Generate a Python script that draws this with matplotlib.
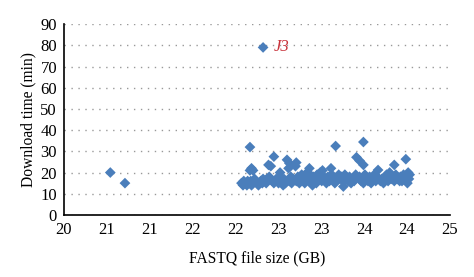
import numpy as np
import matplotlib
matplotlib.use("Agg")
import matplotlib.pyplot as plt

# FASTQ file size (GB) vs download time (min)
size_gb = [20.60, 20.79, 22.58,
           22.30, 22.32, 22.33, 22.35, 22.37, 22.38, 22.40, 22.42, 22.43, 22.45,
           22.41, 22.43, 22.45, 22.41, 22.47, 22.50, 22.52, 22.55, 22.57, 22.58,
           22.60, 22.62, 22.63, 22.65, 22.68, 22.66, 22.70, 22.72, 22.72, 22.75,
           22.77, 22.78, 22.80, 22.80, 22.82, 22.84, 22.85, 22.87, 22.89, 22.92,
           22.91, 22.92, 22.94, 22.95, 22.97, 23.01, 23.00, 23.01, 23.03, 23.05,
           23.06, 23.08, 23.10, 23.12, 23.14, 23.15, 23.16, 23.18, 23.19, 23.20,
           23.22, 23.23, 23.25, 23.27, 23.28, 23.30, 23.32, 23.34, 23.35, 23.37,
           23.38, 23.40, 23.42, 23.44, 23.46, 23.47, 23.52, 23.50, 23.51, 23.53,
           23.62, 23.56, 23.58, 23.60, 23.62, 23.64, 23.66, 23.68, 23.70, 23.72,
           23.74, 23.76, 23.78, 23.79, 23.83, 23.83, 23.85, 23.88, 23.88, 23.88,
           23.90, 23.92, 23.94, 23.96, 23.98, 24.00, 24.02, 24.04, 24.06, 24.07,
           24.10, 24.12, 24.14, 24.16, 24.18, 24.20, 24.22, 24.24, 24.26, 24.28,
           24.28, 24.30, 24.32, 24.35, 24.38, 24.40, 24.41, 24.43, 24.44, 24.46,
           24.47, 24.48, 24.36, 24.45]
time_min = [20, 15, 79,
            15, 14, 16, 15, 14, 16, 15, 16, 14, 15,
            21, 22, 21, 32, 17, 15, 14, 16, 15, 17,
            16, 15, 17, 23.6, 23, 18, 16, 15, 27.5, 17,
            16, 15, 18, 20, 16, 14, 17, 15, 26, 24.4,
            22, 16, 18, 15, 17, 24.7, 23, 16, 18, 15,
            17, 19, 16, 15, 18, 20, 17, 22, 19, 16,
            14, 18, 17, 15, 19, 17, 20, 16, 21, 18,
            17, 15, 18, 16, 22, 19, 32.5, 17, 15, 16,
            13.4, 19, 17, 18, 16, 19, 17, 16, 18, 15,
            17, 16, 19, 27.2, 25.6, 18, 16, 34.4, 15, 23.6,
            19, 17, 16, 18, 15, 17, 19, 16, 18, 21.2,
            16, 17, 15, 18, 19, 16, 20, 17, 18, 23.6,
            16, 19, 17, 16, 16, 19, 17, 26.3, 18, 20,
            17, 19, 18, 15]

xtick_pos = np.linspace(20, 25, 10)
xtick_labels = ['20', '21', '21', '22', '22', '23', '23', '24', '24', '25']
ytick_pos = [0, 10, 20, 30, 40, 50, 60, 70, 80, 90]

plt.rcParams['font.family'] = ['Liberation Serif', 'DejaVu Serif']

fig = plt.figure(figsize=(4.74, 2.77), dpi=100)
ax = fig.add_axes([0.135, 0.224, 0.814, 0.689])

ax.scatter(size_gb, time_min, marker='D', s=30, color='#4a7ebb',
           edgecolors='none', zorder=3)
ax.text(22.72, 79, 'J3', color='#c8323a', style='italic', fontsize=12,
        va='center', ha='left')

ax.set_xlim(20, 25)
ax.set_ylim(0, 90)
ax.set_xticks(xtick_pos)
ax.set_xticklabels(xtick_labels)
ax.set_yticks(ytick_pos)
ax.tick_params(length=0, labelsize=12, pad=5)
ax.yaxis.grid(True, linestyle=(0, (1, 4)), color='#999999', linewidth=1.0)
ax.set_axisbelow(True)

for s in ['top', 'right']:
    ax.spines[s].set_visible(False)
ax.spines['left'].set_linewidth(1.2)
ax.spines['bottom'].set_linewidth(1.2)

ax.set_xlabel('FASTQ file size (GB)', fontsize=11.2, labelpad=9)
ax.set_ylabel('Download time (min)', fontsize=11.2, labelpad=3)

fig.savefig('out.png', dpi=100)
